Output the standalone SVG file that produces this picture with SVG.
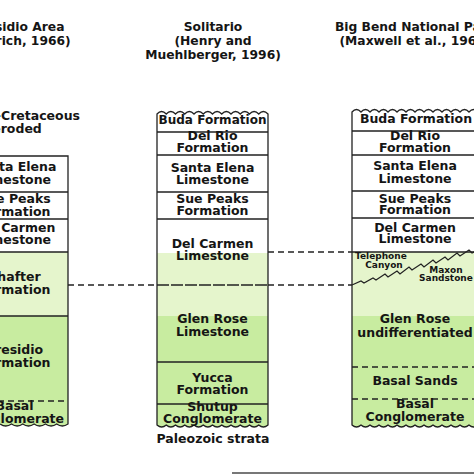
<svg xmlns="http://www.w3.org/2000/svg" width="474" height="474" viewBox="0 0 474 474">
<style>
.t{font-family:"DejaVu Sans","Liberation Sans",sans-serif;font-weight:bold;font-size:12.5px;fill:#151515;text-anchor:middle}
.h{font-size:12.3px}
.s{font-size:9px}
.ln{stroke:#222;stroke-width:1.3;fill:none}
.dl{stroke:#222;stroke-width:1.3;fill:none;stroke-dasharray:6 4}
.w{fill:#ffffff}
.p{fill:#e5f5cc}
.g{fill:#c8eca0}
</style>
<rect width="474" height="474" fill="#ffffff"/>

<g id="headers">
<text class="t h" x="18" y="31">Presidio Area</text>
<text class="t h" x="16" y="45">(Dietrich, 1966)</text>
<text class="t h" x="213" y="31">Solitario</text>
<text class="t h" x="213" y="45">(Henry and</text>
<text class="t h" x="213" y="59">Muehlberger, 1996)</text>
<text class="t h" x="415" y="31">Big Bend National Park</text>
<text class="t h" x="415" y="45">(Maxwell et al., 1967)</text>
</g>

<g id="note-left">
<text class="t" x="80" y="120" style="text-anchor:end">-Cretaceous</text>
<text class="t" x="17" y="133">eroded</text>
</g>

<g id="col-presidio">
<rect class="w" x="-2" y="156" width="70" height="96"/>
<rect class="p" x="-2" y="252" width="70" height="64"/>
<path class="g" d="M-2 316 H68 V424 q-5.7 4 -11.3 0 q-5.7 4 -11.3 0 q-5.7 4 -11.3 0 q-5.7 4 -11.3 0 q-5.7 4 -11.3 0 q-5.7 4 -11.3 0 L-2 424 Z"/>
<path class="ln" d="M-2 156 H68 V424 q-5.7 4 -11.3 0 q-5.7 4 -11.3 0 q-5.7 4 -11.3 0 q-5.7 4 -11.3 0 q-5.7 4 -11.3 0 q-5.7 4 -11.3 0"/>
<path class="ln" d="M-2 192 H68 M-2 219 H68 M-2 252 H68 M-2 316 H68"/>
<path class="dl" d="M-2 401 H68"/>
<text class="t" x="14.5" y="171">Santa Elena</text>
<text class="t" x="14.5" y="184">Limestone</text>
<text class="t" x="14.5" y="203">Sue Peaks</text>
<text class="t" x="14.5" y="216">Formation</text>
<text class="t" x="14.5" y="232">Del Carmen</text>
<text class="t" x="14.5" y="244">Limestone</text>
<text class="t" x="14.5" y="281">Shafter</text>
<text class="t" x="14.5" y="294">Formation</text>
<text class="t" x="14.5" y="354">Presidio</text>
<text class="t" x="14.5" y="367">Formation</text>
<text class="t" x="14.5" y="410">Basal</text>
<text class="t" x="14.5" y="423">Conglomerate</text>
</g>

<g id="col-solitario">
<path class="w" d="M157 114 q4.6 -5 9.25 0 q4.6 -5 9.25 0 q4.6 -5 9.25 0 q4.6 -5 9.25 0 q4.6 -5 9.25 0 q4.6 -5 9.25 0 q4.6 -5 9.25 0 q4.6 -5 9.25 0 q4.6 -5 9.25 0 q4.6 -5 9.25 0 q4.6 -5 9.25 0 q4.6 -5 9.25 0 V253 H157 Z"/>
<rect class="p" x="157" y="253" width="111" height="63"/>
<path class="g" d="M157 316 H268 V425 q-4.6 4 -9.25 0 q-4.6 4 -9.25 0 q-4.6 4 -9.25 0 q-4.6 4 -9.25 0 q-4.6 4 -9.25 0 q-4.6 4 -9.25 0 q-4.6 4 -9.25 0 q-4.6 4 -9.25 0 q-4.6 4 -9.25 0 q-4.6 4 -9.25 0 q-4.6 4 -9.25 0 q-4.6 4 -9.25 0 Z"/>
<path class="ln" d="M157 114 q4.6 -5 9.25 0 q4.6 -5 9.25 0 q4.6 -5 9.25 0 q4.6 -5 9.25 0 q4.6 -5 9.25 0 q4.6 -5 9.25 0 q4.6 -5 9.25 0 q4.6 -5 9.25 0 q4.6 -5 9.25 0 q4.6 -5 9.25 0 q4.6 -5 9.25 0 q4.6 -5 9.25 0 V425 q-4.6 4 -9.25 0 q-4.6 4 -9.25 0 q-4.6 4 -9.25 0 q-4.6 4 -9.25 0 q-4.6 4 -9.25 0 q-4.6 4 -9.25 0 q-4.6 4 -9.25 0 q-4.6 4 -9.25 0 q-4.6 4 -9.25 0 q-4.6 4 -9.25 0 q-4.6 4 -9.25 0 q-4.6 4 -9.25 0 Z"/>
<path class="ln" d="M157 132 H268 M157 155 H268 M157 192 H268 M157 219 H268 M157 362 H268 M157 404 H268"/>
<text class="t" x="212.5" y="124" textLength="108" lengthAdjust="spacingAndGlyphs">Buda Formation</text>
<text class="t" x="212.5" y="140">Del Rio</text>
<text class="t" x="212.5" y="152">Formation</text>
<text class="t" x="212.5" y="172">Santa Elena</text>
<text class="t" x="212.5" y="184">Limestone</text>
<text class="t" x="212.5" y="203">Sue Peaks</text>
<text class="t" x="212.5" y="215">Formation</text>
<text class="t" x="212.5" y="248">Del Carmen</text>
<text class="t" x="212.5" y="260">Limestone</text>
<text class="t" x="212.5" y="323">Glen Rose</text>
<text class="t" x="212.5" y="336">Limestone</text>
<text class="t" x="212.5" y="382">Yucca</text>
<text class="t" x="212.5" y="394">Formation</text>
<text class="t" x="212.5" y="411">Shutup</text>
<text class="t" x="212.5" y="423">Conglomerate</text>
<text class="t" x="213" y="443">Paleozoic strata</text>
</g>

<g id="col-bigbend">
<path class="w" d="M352 112 q4.5 -5 9 0 q4.5 -5 9 0 q4.5 -5 9 0 q4.5 -5 9 0 q4.5 -5 9 0 q4.5 -5 9 0 q4.5 -5 9 0 q4.5 -5 9 0 q4.5 -5 9 0 q4.5 -5 9 0 q4.5 -5 9 0 q4.5 -5 9 0 q4.5 -5 9 0 q4.5 -5 9 0 V252 H352 Z"/>
<rect class="p" x="352" y="252" width="126" height="64"/>
<path class="g" d="M352 316 H478 V425 q-4.5 4 -9 0 q-4.5 4 -9 0 q-4.5 4 -9 0 q-4.5 4 -9 0 q-4.5 4 -9 0 q-4.5 4 -9 0 q-4.5 4 -9 0 q-4.5 4 -9 0 q-4.5 4 -9 0 q-4.5 4 -9 0 q-4.5 4 -9 0 q-4.5 4 -9 0 q-4.5 4 -9 0 q-4.5 4 -9 0 Z"/>
<path class="ln" d="M478 112 q-4.5 -5 -9 0 q-4.5 -5 -9 0 q-4.5 -5 -9 0 q-4.5 -5 -9 0 q-4.5 -5 -9 0 q-4.5 -5 -9 0 q-4.5 -5 -9 0 q-4.5 -5 -9 0 q-4.5 -5 -9 0 q-4.5 -5 -9 0 q-4.5 -5 -9 0 q-4.5 -5 -9 0 q-4.5 -5 -9 0 q-4.5 -5 -9 0 V425 q4.5 4 9 0 q4.5 4 9 0 q4.5 4 9 0 q4.5 4 9 0 q4.5 4 9 0 q4.5 4 9 0 q4.5 4 9 0 q4.5 4 9 0 q4.5 4 9 0 q4.5 4 9 0 q4.5 4 9 0 q4.5 4 9 0 q4.5 4 9 0 q4.5 4 9 0"/>
<path class="ln" d="M352 131 H478 M352 155 H478 M352 191 H478 M352 218 H478 M352 252 H478"/>
<path class="dl" d="M352 367 H478 M352 399 H478"/>
<polyline class="ln" points="352,285 361,281 364,283 373,278 376,280 385,274 388,277 397,271 400,274 409,267 412,270 421,264 424,267 433,260 436,263 445,257 448,260 457,253 460,256 469,250 472,253 478,250"/>
<text class="t" x="416" y="123">Buda Formation</text>
<text class="t" x="415" y="140">Del Rio</text>
<text class="t" x="415" y="152">Formation</text>
<text class="t" x="415" y="170">Santa Elena</text>
<text class="t" x="415" y="183">Limestone</text>
<text class="t" x="415" y="203">Sue Peaks</text>
<text class="t" x="415" y="214">Formation</text>
<text class="t" x="415" y="232">Del Carmen</text>
<text class="t" x="415" y="243">Limestone</text>
<text class="t s" x="355" y="259" style="text-anchor:start">Telephone</text>
<text class="t s" x="384" y="268">Canyon</text>
<text class="t s" x="446" y="273">Maxon</text>
<text class="t s" x="446" y="281">Sandstone</text>
<text class="t" x="415" y="323">Glen Rose</text>
<text class="t" x="415" y="337">undifferentiated</text>
<text class="t" x="415" y="385">Basal Sands</text>
<text class="t" x="415" y="408">Basal</text>
<text class="t" x="415" y="421">Conglomerate</text>
</g>

<g id="connectors">
<path class="dl" d="M68 285 H157"/>
<path class="ln" d="M157 285 H268" stroke-dasharray="12 2"/>
<path class="dl" d="M268 285 H352"/>
<path class="dl" d="M268 252 H352"/>
</g>

<rect x="232" y="472" width="242" height="2" fill="#777777"/>
</svg>
